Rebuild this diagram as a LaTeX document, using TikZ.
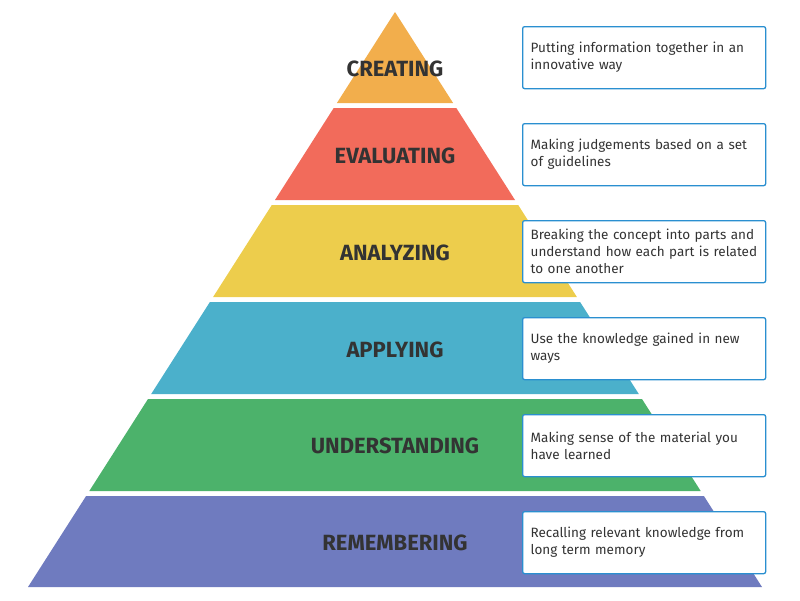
\documentclass[tikz,border=0pt]{standalone}
\usepackage{fontspec}
\setmainfont{Fira Sans}
\definecolor{cCre}{HTML}{F2AE4C}
\definecolor{cEva}{HTML}{F26B5B}
\definecolor{cAna}{HTML}{EDCD4C}
\definecolor{cApp}{HTML}{4BB0CB}
\definecolor{cUnd}{HTML}{4CB26B}
\definecolor{cRem}{HTML}{6F7BBF}
\definecolor{bord}{HTML}{2A8FD0}
\definecolor{txt}{HTML}{333333}
\tikzset{
  lvl/.style={font=\fontsize{22}{24}\selectfont\bfseries, text=txt},
  desc/.style={draw=bord, line width=1.3pt, fill=white, rounded corners=2pt,
    minimum width=243pt, minimum height=62pt, text width=227pt, inner sep=8pt,
    align=left, font=\fontsize{13.5}{17}\selectfont, text=txt, anchor=north west}
}
\begin{document}
\begin{tikzpicture}[x=1pt,y=-1pt]
\useasboundingbox (0,0) rectangle (800,600);
\fill[cCre] (395,12) -- (453.1,103) -- (336.9,103) -- cycle;
\fill[cEva] (333.7,108) -- (456.3,108) -- (515,200) -- (275,200) -- cycle;
\fill[cAna] (271.8,205) -- (518.2,205) -- (576.9,297) -- (213.1,297) -- cycle;
\fill[cApp] (209.9,302) -- (580.1,302) -- (638.8,394) -- (151.2,394) -- cycle;
\fill[cUnd] (148,399) -- (642,399) -- (700.7,491) -- (89.3,491) -- cycle;
\fill[cRem] (86.1,496) -- (703.9,496) -- (762,587) -- (28,587) -- cycle;
\node[lvl] (lcre) at (395,69) {CREATING};
\node[lvl] (leva) at (395,156) {EVALUATING};
\node[lvl] (lana) at (395,253) {ANALYZING};
\node[lvl] (lapp) at (395,350) {APPLYING};
\node[lvl] (lund) at (395,446) {UNDERSTANDING};
\node[lvl] (lrem) at (395,543) {REMEMBERING};
\node[desc] (dcre) at (522,26) {Putting information together in an innovative way};
\node[desc] (deva) at (522,123) {Making judgements based on a set of guidelines};
\node[desc] (dana) at (522,220) {Breaking the concept into parts and understand how each part is related to one another};
\node[desc] (dapp) at (522,317) {Use the knowledge gained in new ways};
\node[desc] (dund) at (522,414) {Making sense of the material you have learned};
\node[desc] (drem) at (522,511) {Recalling relevant knowledge from long term memory};
\end{tikzpicture}
\end{document}
